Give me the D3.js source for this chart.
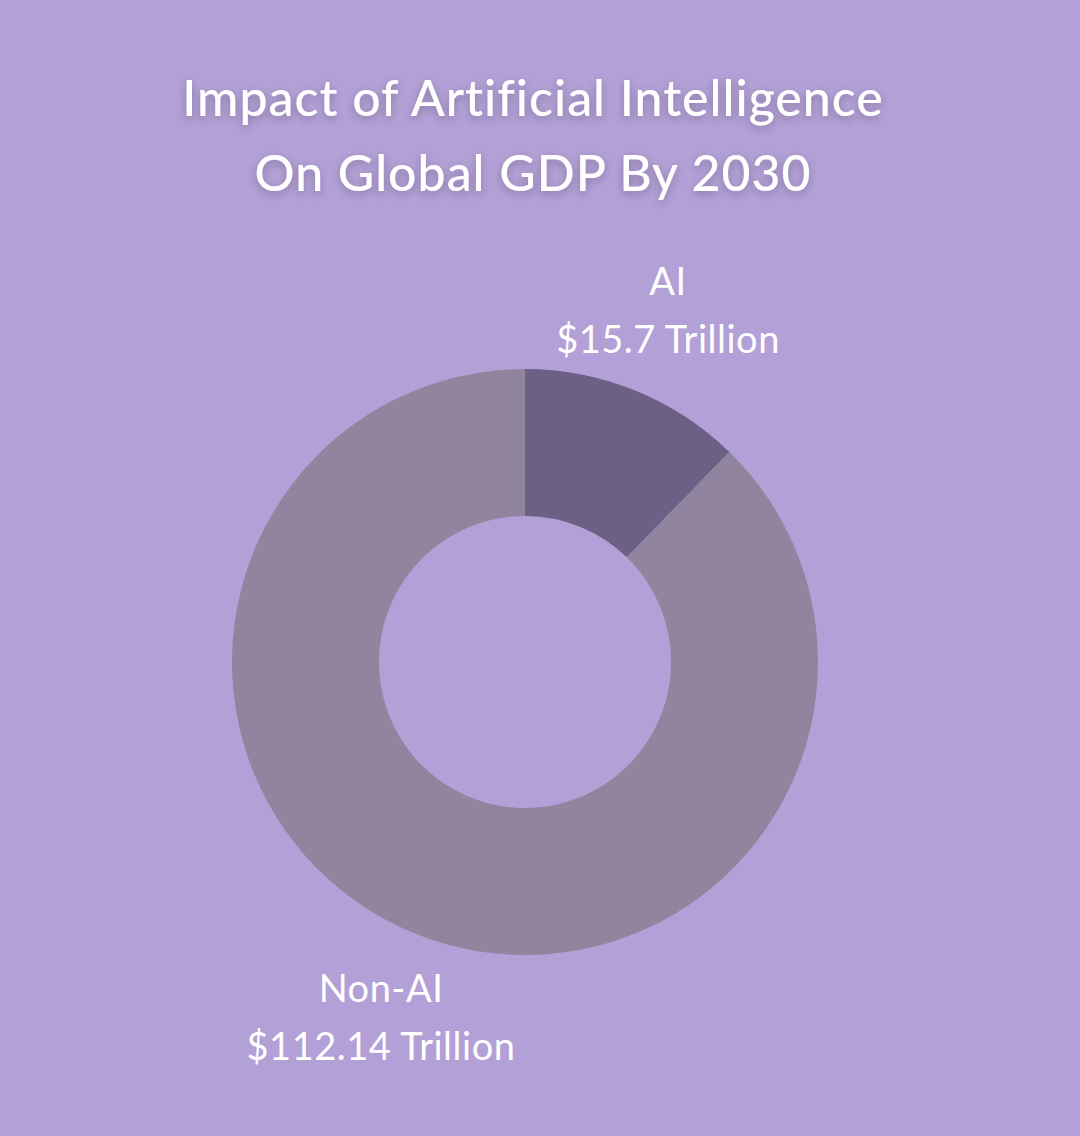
<!DOCTYPE html>
<html><head><meta charset="utf-8">
<script src="https://cdn.jsdelivr.net/npm/d3@7"></script>
<style>body{margin:0;background:#b3a0d6}svg{display:block}</style>
</head><body>
<svg id="c" width="1080" height="1136"></svg>
<script>
const categories = ["AI", "Non-AI"];
const values = [15.7, 112.14];
const valueLabels = ["$15.7 Trillion", "$112.14 Trillion"];
const colors = ["#6c6184", "#90849f"];
const titleLines = ["Impact of Artificial Intelligence", "On Global GDP By 2030"];

const svg = d3.select("#c");
svg.append("rect").attr("width",1080).attr("height",1136).attr("fill","#b3a0d6");
const defs = svg.append("defs");
const f = defs.append("filter").attr("id","sh").attr("x","-10%").attr("y","-30%").attr("width","120%").attr("height","160%");
f.append("feDropShadow").attr("dx",0).attr("dy",3).attr("stdDeviation",4).attr("flood-color","#000").attr("flood-opacity",0.25);

svg.append("g").selectAll("text").data(titleLines).join("text")
  .attr("x",533).attr("y",(d,i)=>116+i*75).attr("text-anchor","middle")
  .attr("font-family","Lato, 'Open Sans', sans-serif").attr("font-size",50).attr("font-weight",500)
  .attr("fill","#fff").attr("filter","url(#sh)").attr("letter-spacing",1).text(d=>d);

const cx=525, cy=662;
const pie = d3.pie().sort(null)(values);
const arc = d3.arc().innerRadius(146).outerRadius(293);
svg.append("g").attr("transform",`translate(${cx},${cy})`).selectAll("path").data(pie).join("path")
  .attr("d",arc).attr("fill",(d,i)=>colors[i]);

const labelPos = [[668,295],[381,1002]];
categories.forEach((c,i)=>{
  const t = svg.append("text").attr("text-anchor","middle")
    .attr("font-family","Lato, 'Open Sans', sans-serif").attr("font-size",38).attr("fill","#fff").attr("letter-spacing",0.5);
  t.append("tspan").attr("x",labelPos[i][0]).attr("y",labelPos[i][1]).text(c);
  t.append("tspan").attr("x",labelPos[i][0]).attr("y",labelPos[i][1]+58).text(valueLabels[i]);
});
</script>
</body></html>
